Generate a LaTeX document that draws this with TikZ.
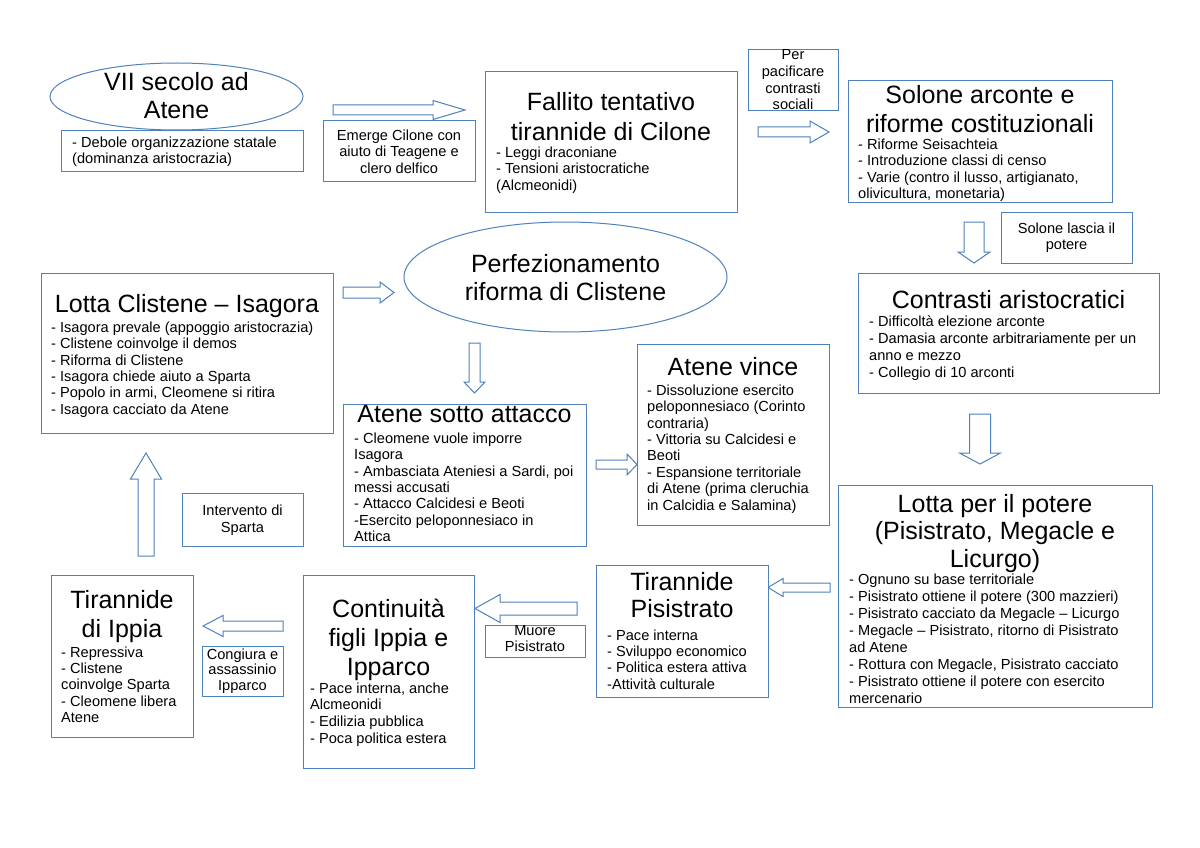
\documentclass[tikz,border=0pt]{standalone}
\usepackage{fontspec}
\setmainfont{Liberation Sans}
\usetikzlibrary{shapes.geometric}
\definecolor{bl}{RGB}{79,129,189}
\newcommand\fbody{\fontsize{14.6}{16.5}\selectfont}
\newcommand\ftitle{\fontsize{25}{28.5}\selectfont}
\newcommand\harr[6]{\draw[blk] (#1,#4-#5) -- (#2,#4-#5) -- (#2,#4-#6) -- (#3,#4) -- (#2,#4+#6) -- (#2,#4+#5) -- (#1,#4+#5) -- cycle;}
\newcommand\varr[6]{\draw[blk] (#1-#5,#2) -- (#1-#5,#3) -- (#1-#6,#3) -- (#1,#4) -- (#1+#6,#3) -- (#1+#5,#3) -- (#1+#5,#2) -- cycle;}
\newcommand\bx[5]{\node[box,anchor=north west,minimum width=#4-#2,minimum height=#5-#3] (#1) at (#2,#3) {};}
\begin{document}
\begin{tikzpicture}[x=1pt,y=-1pt,
  box/.style={draw=bl, line width=1pt, fill=white, inner sep=0pt},
  ell/.style={ellipse, draw=bl, line width=1pt, fill=white, inner sep=0pt},
  blk/.style={draw=bl, line width=1pt, fill=white, line join=miter},
  bt/.style={font=\fbody, align=left, inner sep=0pt, anchor=north west},
  bc/.style={font=\fbody, align=center, inner sep=0pt, anchor=north},
  tt/.style={font=\ftitle, align=center, inner sep=0pt, anchor=north}]
\useasboundingbox (0,0) rectangle (1200,848);
\fill[white] (0,0) rectangle (1200,848);

% block arrows
\harr{333}{433}{465}{110}{5}{9.5}
\harr{758}{810}{829}{132}{5}{11}
\varr{974}{222}{252}{263}{10}{16}
\varr{980}{414}{453}{464}{10.5}{20.5}
\harr{830}{783}{768}{587.5}{4.5}{9}
\harr{577}{500}{475}{608.5}{6.5}{14}
\harr{283}{223}{203}{626}{5}{10.5}
\varr{146}{556}{479}{453}{8}{15.5}
\harr{343}{380}{394}{292.5}{5.5}{10.5}
\varr{474.5}{343}{382}{393}{5.5}{10.5}
\harr{596}{627}{637}{464.5}{4.5}{10.5}

% VII secolo
\node[ell, minimum width=253, minimum height=67] (vii) at (176.5,96.5) {};
\bx{debole}{61}{130}{303}{171}
\node[tt] (viit) at (176.5,90-18.2) {VII secolo ad\\Atene};
\node[bt] (debolet) at (72,147-10.5) {- Debole organizzazione statale\\(dominanza aristocrazia)};

% Emerge
\bx{emerge}{323}{120}{475}{181}
\node[bc] (emerget) at (399,140-10.5) {Emerge Cilone con\\aiuto di Teagene e\\clero delfico};

% Fallito
\bx{fallito}{485}{71}{737}{212}
\node[tt, font={\fontsize{25}{30}\selectfont}] (fallitot) at (611,110-18.2) {Fallito tentativo\\tirannide di Cilone};
\node[bt] (fallitob) at (496,157-10.5) {- Leggi draconiane\\- Tensioni aristocratiche\\(Alcmeonidi)};

% Per pacificare
\bx{per}{748}{49}{838}{110}
\node[bc, font={\fontsize{14.6}{16.7}\selectfont}] (pert) at (793,60-10.5) {Per\\pacificare\\contrasti\\sociali};

% Solone
\bx{solone}{848}{80}{1112}{202}
\node[tt, font={\fontsize{25}{29}\selectfont}] (solonet) at (980,103-18.2) {Solone arconte e\\riforme costituzionali};
\node[bt] (soloneb) at (858,149-10.5) {- Riforme Seisachteia\\- Introduzione classi di censo\\- Varie (contro il lusso, artigianato,\\olivicultura, monetaria)};

% Solone lascia
\bx{lascia}{1001}{212}{1132}{263}
\node[bc] (lasciat) at (1066.5,233-10.5) {Solone lascia il\\potere};

% Contrasti
\bx{contrasti}{858}{273}{1159}{393}
\node[tt] (contrastit) at (1008.5,308-18.2) {Contrasti aristocratici};
\node[bt, font={\fontsize{14.6}{17}\selectfont}] (contrastib) at (869,326-10.5) {- Difficoltà elezione arconte\\- Damasia arconte arbitrariamente per un\\anno e mezzo\\- Collegio di 10 arconti};

% Lotta per il potere
\bx{potere}{838}{485}{1152}{707}
\node[tt, font={\fontsize{25}{27.5}\selectfont}] (poteret) at (995,512-18.2) {Lotta per il potere\\(Pisistrato, Megacle e\\Licurgo)};
\node[bt, font={\fontsize{14.6}{17}\selectfont}] (potereb) at (849,584-10.5) {- Ognuno su base territoriale\\- Pisistrato ottiene il potere (300 mazzieri)\\- Pisistrato cacciato da Megacle -- Licurgo\\- Megacle -- Pisistrato, ritorno di Pisistrato\\ad Atene\\- Rottura con Megacle, Pisistrato cacciato\\- Pisistrato ottiene il potere con esercito\\mercenario};

% Tirannide Pisistrato
\bx{pisistrato}{596}{565}{768}{697}
\node[tt, font={\fontsize{25}{27}\selectfont}] (pisistratot) at (682,590-18.2) {Tirannide\\Pisistrato};
\node[bt, font={\fontsize{14.6}{16.3}\selectfont}] (pisistratob) at (607,640-10.5) {- Pace interna\\- Sviluppo economico\\- Politica estera attiva\\-Attività culturale};

% Muore Pisistrato
\bx{muore}{485}{625}{585}{657}
\node[bc, font={\fontsize{14.6}{16}\selectfont}] (muoret) at (535,636-10.5) {Muore\\Pisistrato};

% Continuita
\bx{continuita}{303}{575}{474}{768}
\node[tt, font={\fontsize{25}{29}\selectfont}] (continuitat) at (388.5,617-18.2) {Continuità\\figli Ippia e\\Ipparco};
\node[bt, font={\fontsize{14.6}{16.6}\selectfont}] (continuitab) at (310,693-10.5) {- Pace interna, anche\\Alcmeonidi\\- Edilizia pubblica\\- Poca politica estera};

% Congiura
\bx{congiura}{202}{646}{283}{696}
\node[bc, font={\fontsize{14.6}{15.5}\selectfont}] (congiurat) at (242.5,659-10.5) {Congiura e\\assassinio\\Ipparco};

% Ippia
\bx{ippia}{51}{575}{193}{737}
\node[tt, font={\fontsize{25}{29}\selectfont}] (ippiat) at (122,608-18.2) {Tirannide\\di Ippia};
\node[bt, font={\fontsize{14.6}{16.3}\selectfont}] (ippiab) at (61,657-10.5) {- Repressiva\\- Clistene\\coinvolge Sparta\\- Cleomene libera\\Atene};

% Intervento di Sparta
\bx{intervento}{182}{493}{303}{546}
\node[bc, font={\fontsize{14.6}{17}\selectfont}] (interventot) at (242.5,515-10.5) {Intervento di\\Sparta};

% Lotta Clistene - Isagora
\bx{clistene}{41}{273}{333}{433}
\node[tt] (clistenet) at (187,312-18.2) {Lotta Clistene -- Isagora};
\node[bt, font={\fontsize{14.6}{16.4}\selectfont}] (clisteneb) at (51,332-10.5) {- Isagora prevale (appoggio aristocrazia)\\- Clistene coinvolge il demos\\- Riforma di Clistene\\- Isagora chiede aiuto a Sparta\\- Popolo in armi, Cleomene si ritira\\- Isagora cacciato da Atene};

% Perfezionamento
\node[ell, minimum width=323, minimum height=110] (perf) at (565.5,277) {};
\node[tt, font={\fontsize{25}{28}\selectfont}] (perft) at (565.5,272-18.2) {Perfezionamento\\riforma di Clistene};

% Atene sotto attacco
\bx{attacco}{343}{404}{586}{546}
\node[tt] (attaccot) at (464.5,423-18.2) {Atene sotto attacco};
\node[bt, font={\fontsize{14.6}{16.4}\selectfont}] (attaccob) at (354,443-10.5) {- Cleomene vuole imporre\\Isagora\\- Ambasciata Ateniesi a Sardi, poi\\messi accusati\\- Attacco Calcidesi e Beoti\\-Esercito peloponnesiaco in\\Attica};

% Atene vince
\bx{vince}{637}{344}{829}{525}
\node[tt] (vincet) at (733,375-18.2) {Atene vince};
\node[bt, font={\fontsize{14.6}{16.4}\selectfont}] (vinceb) at (647,395-10.5) {- Dissoluzione esercito\\peloponnesiaco (Corinto\\contraria)\\- Vittoria su Calcidesi e\\Beoti\\- Espansione territoriale\\di Atene (prima cleruchia\\in Calcidia e Salamina)};
\end{tikzpicture}
\end{document}
